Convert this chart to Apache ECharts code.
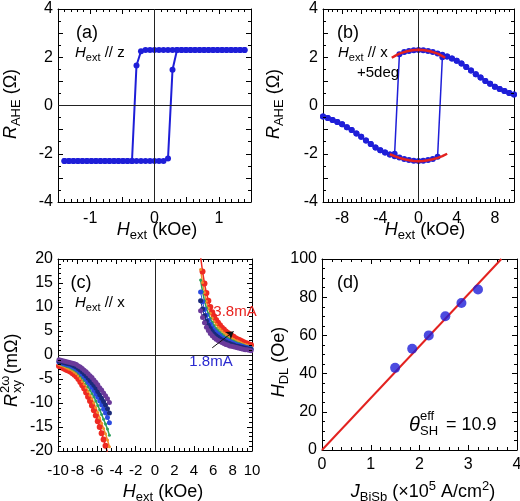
<!DOCTYPE html>
<html lang="en">
<head>
<meta charset="UTF-8">
<title>AHE and harmonic Hall</title>
<script src="https://cdn.jsdelivr.net/npm/echarts@6/dist/echarts.min.js"></script>
<style>
  html, body { margin: 0; padding: 0; background: #fff; }
  #chart { width: 520px; height: 501px; }
</style>
</head>
<body>
<div id="chart"></div>
<script>
// ---- (a) Hext // z loop ----
var aUpH = [-1.4,-1.33,-1.26,-1.19,-1.12,-1.05,-0.98,-0.91,-0.84,-0.77,-0.7,-0.63,-0.56,-0.49,-0.42,-0.35,-0.28,-0.21,-0.14,-0.07,0,0.07,0.14,0.21,0.28,0.35,0.42,0.49,0.56,0.63,0.7,0.77,0.84,0.91,0.98,1.05,1.12,1.19,1.26,1.33,1.4];
var aUpR = [-2.3,-2.3,-2.3,-2.3,-2.3,-2.3,-2.3,-2.3,-2.3,-2.3,-2.3,-2.3,-2.3,-2.3,-2.3,-2.3,-2.3,-2.3,-2.3,-2.3,-2.3,-2.3,-2.3,-2.2,1.48,2.3,2.3,2.3,2.3,2.3,2.3,2.3,2.3,2.3,2.3,2.3,2.3,2.3,2.3,2.3,2.3];
var aDownH = [1.4,1.33,1.26,1.19,1.12,1.05,0.98,0.91,0.84,0.77,0.7,0.63,0.56,0.49,0.42,0.35,0.28,0.21,0.14,0.07,0,-0.07,-0.14,-0.21,-0.28,-0.35,-0.42,-0.49,-0.56,-0.63,-0.7,-0.77,-0.84,-0.91,-0.98,-1.05,-1.12,-1.19,-1.26,-1.33,-1.4];
var aDownR = [2.3,2.3,2.3,2.3,2.3,2.3,2.3,2.3,2.3,2.3,2.3,2.3,2.3,2.3,2.3,2.3,2.3,2.3,2.3,2.3,2.3,2.3,2.3,2.25,1.66,-2.3,-2.3,-2.3,-2.3,-2.3,-2.3,-2.3,-2.3,-2.3,-2.3,-2.3,-2.3,-2.3,-2.3,-2.3,-2.3];

// ---- (b) Hext // x +5deg loop ----
var bUpH = [-10,-9.5,-9,-8.5,-8,-7.5,-7,-6.5,-6,-5.5,-5,-4.5,-4,-3.5,-3,-2.5,-2,-1.5,-1,-0.5,0,0.5,1,1.5,2,2.5,3,3.5,4,4.5,5,5.5,6,6.5,7,7.5,8,8.5,9,9.5,10];
var bUpR = [-0.46,-0.52,-0.6,-0.68,-0.78,-0.9,-1.02,-1.16,-1.3,-1.45,-1.6,-1.74,-1.86,-1.95,-2.03,-2.1,-2.16,-2.22,-2.26,-2.29,-2.3,-2.29,-2.26,-2.22,-2.12,2.0,2.03,1.95,1.86,1.74,1.6,1.45,1.3,1.16,1.02,0.9,0.78,0.68,0.6,0.52,0.46];
var bDownH = [10,9.5,9,8.5,8,7.5,7,6.5,6,5.5,5,4.5,4,3.5,3,2.5,2,1.5,1,0.5,0,-0.5,-1,-1.5,-2,-2.5,-3,-3.5,-4,-4.5,-5,-5.5,-6,-6.5,-7,-7.5,-8,-8.5,-9,-9.5,-10];
var bDownR = [0.46,0.52,0.6,0.68,0.78,0.9,1.02,1.16,1.3,1.45,1.6,1.74,1.86,1.95,2.03,2.1,2.16,2.22,2.26,2.29,2.3,2.29,2.26,2.22,2.12,-2.0,-2.03,-1.95,-1.86,-1.74,-1.6,-1.45,-1.3,-1.16,-1.02,-0.9,-0.78,-0.68,-0.6,-0.52,-0.46];
var bFitTopH = [-2.8,-2.4,-2,-1.6,-1.2,-0.8,-0.4,0,0.4,0.8,1.2,1.6,2,2.4,2.8];
var bFitTopR = [1.98,2.07,2.15,2.2,2.25,2.28,2.3,2.31,2.3,2.28,2.25,2.2,2.15,2.07,1.98];
var bFitBotH = [-3,-2.5,-2,-1.5,-1,-0.5,0,0.5,1,1.5,2,2.5,3];
var bFitBotR = [-2.02,-2.1,-2.17,-2.23,-2.27,-2.3,-2.31,-2.3,-2.27,-2.23,-2.17,-2.1,-2.0];

// ---- (c) second harmonic, 1.8 .. 3.8 mA ----
var cRightH = [4.7,4.9,5.1,5.3,5.5,5.7,5.9,6.1,6.3,6.5,6.7,6.9,7.1,7.3,7.5,7.7,7.9,8.1,8.3,8.5,8.7,8.9,9.1,9.3,9.5,9.7,9.9];
var cLeftH = [-9.9,-9.7,-9.5,-9.3,-9.1,-8.9,-8.7,-8.5,-8.3,-8.1,-7.9,-7.7,-7.5,-7.3,-7.1,-6.9,-6.7,-6.5,-6.3,-6.1,-5.9,-5.7,-5.5,-5.3,-5.1,-4.9,-4.7];
var cRed    = [20.5,17.4,14.9,12.9,11.3,10.0,8.9,8.0,7.3,6.7,6.2,5.7,5.3,4.9,4.6,4.3,4.0,3.8,3.5,3.3,3.1,2.9,2.7,2.5,2.4,2.2,2.1];
var cOrange = [17.8,15.1,13.0,11.2,9.8,8.7,7.7,7.0,6.4,5.8,5.4,5.0,4.6,4.3,4.0,3.7,3.5,3.3,3.0,2.9,2.7,2.5,2.3,2.2,2.1,1.9,1.8];
var cGreen  = [15.6,13.2,11.3,9.8,8.6,7.6,6.8,6.1,5.5,5.1,4.7,4.3,4.0,3.7,3.5,3.3,3.0,2.9,2.7,2.5,2.4,2.2,2.1,1.9,1.8,1.7,1.6];
var cBlue   = [13.1,11.1,9.5,8.3,7.2,6.4,5.7,5.1,4.7,4.3,4.0,3.6,3.4,3.1,2.9,2.8,2.6,2.4,2.2,2.1,2.0,1.9,1.7,1.6,1.5,1.4,1.3];
var cNavy   = [11.3,9.6,8.2,7.1,6.2,5.5,4.9,4.4,4.0,3.7,3.4,3.1,2.9,2.7,2.5,2.4,2.2,2.1,1.9,1.8,1.7,1.6,1.5,1.4,1.3,1.2,1.2];
var cPurple = [9.2,7.8,6.7,5.8,5.1,4.5,4.0,3.6,3.3,3.0,2.8,2.6,2.4,2.2,2.1,1.9,1.8,1.7,1.6,1.5,1.4,1.3,1.2,1.1,1.1,1.0,0.9];
var cRedL    = [-2.3,-2.5,-2.7,-2.9,-3.1,-3.3,-3.5,-3.8,-4.1,-4.5,-5.0,-5.6,-6.3,-7.0,-7.8,-8.7,-9.6,-10.5,-11.5,-12.6,-13.8,-15.0,-16.3,-17.6,-18.9,-20.3,-22.0];
var cOrangeL = [-2.0,-2.2,-2.3,-2.5,-2.7,-2.9,-3.0,-3.3,-3.6,-3.9,-4.4,-4.9,-5.5,-6.1,-6.8,-7.6,-8.4,-9.1,-10.0,-11.0,-12.0,-13.1,-14.2,-15.3,-16.4,-17.7,-19.1];
var cGreenL  = [-1.7,-1.9,-2.1,-2.2,-2.4,-2.5,-2.7,-2.9,-3.1,-3.4,-3.8,-4.3,-4.8,-5.3,-5.9,-6.6,-7.3,-8.0,-8.7,-9.6,-10.5,-11.4,-12.4,-13.4,-14.4,-15.4,-16.7];
var cBlueL   = [-1.5,-1.6,-1.7,-1.9,-2.0,-2.1,-2.2,-2.4,-2.6,-2.9,-3.2,-3.6,-4.0,-4.5,-5.0,-5.6,-6.1,-6.7,-7.4,-8.1,-8.8,-9.6,-10.4,-11.3,-12.1,-13.0,-14.1];
var cNavyL   = [-1.3,-1.4,-1.5,-1.6,-1.7,-1.8,-1.9,-2.1,-2.3,-2.5,-2.8,-3.1,-3.5,-3.9,-4.3,-4.8,-5.3,-5.8,-6.3,-6.9,-7.6,-8.3,-9.0,-9.7,-10.4,-11.2,-12.1];
var cPurpleL = [-1.0,-1.1,-1.2,-1.3,-1.4,-1.5,-1.6,-1.7,-1.8,-2.0,-2.3,-2.5,-2.8,-3.2,-3.5,-3.9,-4.3,-4.7,-5.2,-5.7,-6.2,-6.8,-7.3,-7.9,-8.5,-9.1,-9.9];

// ---- (d) H_DL vs J ----
var dJ = [1.5, 1.85, 2.19, 2.53, 2.86, 3.2];
var dH = [43, 53, 60, 70, 77, 84];
var dFitJ = [0, 3.68];
var dFitH = [0, 100];

// tick labels shown on each axis
var aXTicks = [-1, 0, 1];
var abYTicks = [-4, -2, 0, 2, 4];
var bXTicks = [-8, -4, 0, 4, 8];
var cXTicks = [-10, -8, -6, -4, -2, 0, 2, 4, 6, 8, 10];
var cYTicks = [-20, -15, -10, -5, 0, 5, 10, 15, 20];
var dXTicks = [0, 1, 2, 3, 4];
var dYTicks = [0, 20, 40, 60, 80, 100];

// axis ranges per panel: [min, max, major step, minor divisions]
var AXES = [
  { x: [-1.5, 1.5, 0.5, 5], y: [-4, 4, 1, 2] },
  { x: [-10, 10, 2, 4], y: [-4, 4, 1, 2] },
  { x: [-10, 10, 2, 4], y: [-20, 20, 5, 5] },
  { x: [0, 4, 1, 5], y: [0, 100, 20, 4] }
];

var GRIDS = [
  { left: 58, top: 9, width: 193, height: 193 },
  { left: 323, top: 9, width: 191, height: 193 },
  { left: 58, top: 259, width: 194, height: 192 },
  { left: 322, top: 259, width: 195, height: 191 }
];

var FONT = 'Arial, "Liberation Sans", sans-serif';
var BLUE = '#1e1ed8';
var RED = '#e3221f';

function zip(xs, ys) {
  return xs.map(function (x, i) { return [x, ys[i]]; });
}

function only(list) {
  return function (v) {
    for (var i = 0; i < list.length; i++) {
      if (Math.abs(list[i] - v) < 1e-9) return String(list[i]);
    }
    return '';
  };
}

function axis(g, pos, r, o) {
  o = o || {};
  return {
    type: 'value', gridIndex: g, position: pos,
    min: r[0], max: r[1], interval: r[2],
    axisLine: { show: true, onZero: false, lineStyle: { color: '#000', width: 1 } },
    axisTick: { show: false },
    minorTick: { show: false },
    splitLine: { show: false },
    axisLabel: {
      show: !!o.ticks, formatter: o.ticks ? only(o.ticks) : '', color: '#000',
      fontSize: o.fs || 16, fontFamily: FONT, margin: o.margin || 6, hideOverlap: false
    }
  };
}

// inward frame ticks as short marker lines, given in axis units
function tickLines(g) {
  var t = AXES[g], r = GRIDS[g], out = [];
  var perPxX = (t.x[1] - t.x[0]) / r.width, perPxY = (t.y[1] - t.y[0]) / r.height;
  var n = Math.round((t.x[1] - t.x[0]) / t.x[2] * t.x[3]);
  for (var k = 1; k < n; k++) {
    var v = t.x[0] + k * t.x[2] / t.x[3];
    var L = (k % t.x[3] === 0 ? 5 : 3) * perPxY;
    out.push([{ coord: [v, t.y[0]] }, { coord: [v, t.y[0] + L] }]);
    out.push([{ coord: [v, t.y[1]] }, { coord: [v, t.y[1] - L] }]);
  }
  var m = Math.round((t.y[1] - t.y[0]) / t.y[2] * t.y[3]);
  for (var j = 1; j < m; j++) {
    var w = t.y[0] + j * t.y[2] / t.y[3];
    var M = (j % t.y[3] === 0 ? 5 : 3) * perPxX;
    out.push([{ coord: [t.x[0], w] }, { coord: [t.x[0] + M, w] }]);
    out.push([{ coord: [t.x[1], w] }, { coord: [t.x[1] - M, w] }]);
  }
  return out;
}

function tickSeries(g) {
  return {
    type: 'line', xAxisIndex: 2 * g, yAxisIndex: 2 * g, data: [],
    symbol: 'none', silent: true, animation: false, z: 8,
    markLine: {
      silent: true, animation: false, symbol: ['none', 'none'],
      label: { show: false }, emphasis: { disabled: true },
      lineStyle: { color: '#000', width: 1, type: 'solid' },
      data: tickLines(g)
    }
  };
}

var zeroLines = {
  silent: true, symbol: ['none', 'none'], animation: false,
  label: { show: false },
  lineStyle: { color: '#222', width: 1, type: 'solid' },
  emphasis: { disabled: true },
  data: [{ xAxis: 0 }, { yAxis: 0 }]
};

function dots(g, data, color, size, lw, extra) {
  return Object.assign({
    type: 'line', xAxisIndex: 2 * g, yAxisIndex: 2 * g, data: data,
    symbol: 'circle', symbolSize: size, showSymbol: true,
    itemStyle: { color: color }, lineStyle: { color: color, width: lw },
    emphasis: { disabled: true }, animation: false
  }, extra || {});
}

function fit(g, data, color, lw) {
  return {
    type: 'line', xAxisIndex: 2 * g, yAxisIndex: 2 * g, data: data,
    symbol: 'none', lineStyle: { color: color, width: lw }, z: 5,
    emphasis: { disabled: true }, animation: false
  };
}

var RICH = {
  i: { fontStyle: 'italic', fontSize: 18, lineHeight: 24, fontFamily: FONT },
  s: { fontSize: 13, lineHeight: 13, verticalAlign: 'bottom', fontFamily: FONT },
  p: { fontSize: 13, lineHeight: 13, verticalAlign: 'top', fontFamily: FONT },
  hi: { fontStyle: 'italic', fontSize: 15, lineHeight: 20, fontFamily: FONT },
  hs: { fontSize: 11, lineHeight: 11, verticalAlign: 'bottom', fontFamily: FONT }
};

function txt(x, y, text, size, opts) {
  opts = opts || {};
  return {
    type: 'text', x: x, y: y, z: 100, rotation: opts.rot || 0,
    style: {
      text: text, rich: RICH, fontSize: size, fontFamily: FONT,
      fontStyle: opts.italic ? 'italic' : 'normal',
      fill: opts.color || '#000',
      align: opts.align || 'center', verticalAlign: 'middle',
      textAlign: opts.align || 'center', textVerticalAlign: 'middle'
    }
  };
}

var chart = echarts.init(document.getElementById('chart'), null, { renderer: 'canvas' });
chart.setOption({
  animation: false,
  backgroundColor: '#fff',
  grid: GRIDS.map(function (r) {
    return Object.assign({ containLabel: false, outerBoundsMode: 'none' }, r);
  }),
  xAxis: [
    axis(0, 'bottom', AXES[0].x, { ticks: aXTicks, margin: 9 }),
    axis(0, 'top', AXES[0].x),
    axis(1, 'bottom', AXES[1].x, { ticks: bXTicks, margin: 9 }),
    axis(1, 'top', AXES[1].x),
    axis(2, 'bottom', AXES[2].x, { ticks: cXTicks, fs: 15, margin: 12 }),
    axis(2, 'top', AXES[2].x),
    axis(3, 'bottom', AXES[3].x, { ticks: dXTicks, margin: 7 }),
    axis(3, 'top', AXES[3].x)
  ],
  yAxis: [
    axis(0, 'left', AXES[0].y, { ticks: abYTicks, margin: 5 }),
    axis(0, 'right', AXES[0].y),
    axis(1, 'left', AXES[1].y, { ticks: abYTicks, margin: 5 }),
    axis(1, 'right', AXES[1].y),
    axis(2, 'left', AXES[2].y, { ticks: cYTicks, margin: 5 }),
    axis(2, 'right', AXES[2].y),
    axis(3, 'left', AXES[3].y, { ticks: dYTicks, margin: 5 }),
    axis(3, 'right', AXES[3].y)
  ],
  series: [
    tickSeries(0), tickSeries(1), tickSeries(2), tickSeries(3),
    // (a)
    dots(0, zip(aUpH, aUpR), BLUE, 6, 2, { markLine: zeroLines }),
    dots(0, zip(aDownH, aDownR), BLUE, 6, 2),
    // (b)
    dots(1, zip(bUpH, bUpR), BLUE, 6, 1.5, { markLine: zeroLines }),
    dots(1, zip(bDownH, bDownR), BLUE, 6, 1.5),
    fit(1, zip(bFitTopH, bFitTopR), RED, 2.5),
    fit(1, zip(bFitBotH, bFitBotR), RED, 2.5),
    // (c) right branch
    dots(2, zip(cRightH, cRed), '#ee2a22', 6, 1.5, { markLine: zeroLines }),
    dots(2, zip(cRightH, cOrange), '#f0902a', 3, 1.5),
    dots(2, zip(cRightH, cGreen), '#2ea05a', 3, 1.5),
    dots(2, zip(cRightH, cBlue), '#2b4be0', 5, 1),
    dots(2, zip(cRightH, cNavy), '#1b2a7a', 5, 1),
    dots(2, zip(cRightH, cPurple), '#6a3a9a', 5, 1),
    // (c) left branch
    dots(2, zip(cLeftH, cRedL), '#ee2a22', 6, 1.5),
    dots(2, zip(cLeftH, cOrangeL), '#f0902a', 3, 1.5),
    dots(2, zip(cLeftH, cGreenL), '#2ea05a', 3, 1.5),
    dots(2, zip(cLeftH, cBlueL), '#2b4be0', 5, 1),
    dots(2, zip(cLeftH, cNavyL), '#1b2a7a', 5, 1),
    dots(2, zip(cLeftH, cPurpleL), '#6a3a9a', 5, 1, {
      markLine: {
        silent: true, animation: false, symbol: ['none', 'arrow'], symbolSize: 7,
        label: { show: false }, emphasis: { disabled: true },
        lineStyle: { color: '#111', width: 1, type: 'solid' },
        data: [[{ coord: [5.9, 1.5] }, { coord: [8.1, 4.9] }]]
      }
    }),
    // (d)
    fit(3, zip(dFitJ, dFitH), RED, 2),
    {
      type: 'scatter', xAxisIndex: 6, yAxisIndex: 6, data: zip(dJ, dH),
      symbol: 'circle', symbolSize: 10, itemStyle: { color: BLUE }, z: 6,
      emphasis: { disabled: true }, animation: false
    }
  ],
  graphic: [
    txt(87, 33, '(a)', 18),
    txt(75, 53, '{hi|H}{hs|ext} // z', 15, { align: 'left' }),
    txt(348, 33, '(b)', 18),
    txt(338, 53, '{hi|H}{hs|ext} // x', 15, { align: 'left' }),
    txt(357, 73, '+5deg', 15, { align: 'left' }),
    txt(81, 283, '(c)', 18),
    txt(75, 303, '{hi|H}{hs|ext} // x', 15, { align: 'left' }),
    txt(235, 312, '3.8mA', 15, { color: '#e8231f' }),
    txt(211, 362, '1.8mA', 15, { color: '#2a2ad0' }),
    txt(348, 283, '(d)', 18),
    txt(409, 425, 'θ', 20, { align: 'left', italic: true }),
    txt(420, 416, 'eff', 13, { align: 'left' }),
    txt(420, 431, 'SH', 13, { align: 'left' }),
    txt(446, 425, '= 10.9', 18, { align: 'left' }),
    txt(157, 230, '{i|H}{s|ext} (kOe)', 18),
    txt(425, 230, '{i|H}{s|ext} (kOe)', 18),
    txt(163, 492, '{i|H}{s|ext} (kOe)', 18),
    txt(423, 492, '{i|J}{s|BiSb} (×10{p|5} A/cm{p|2})', 18),
    txt(11, 104, '{i|R}{s|AHE} (Ω)', 18, { rot: Math.PI / 2 }),
    txt(274, 104, '{i|R}{s|AHE} (Ω)', 18, { rot: Math.PI / 2 }),
    txt(279, 362, '{i|H}{s|DL} (Oe)', 18, { rot: Math.PI / 2 }),
    {
      type: 'group', x: 12, y: 362, rotation: Math.PI / 2,
      children: [
        txt(-45, 0, 'R', 18, { align: 'left', italic: true }),
        txt(-31, 5, 'xy', 13, { align: 'left' }),
        txt(-31, -7, '2ω', 13, { align: 'left' }),
        txt(-12, 0, '(mΩ)', 18, { align: 'left' })
      ]
    }
  ]
});
</script>
</body>
</html>
